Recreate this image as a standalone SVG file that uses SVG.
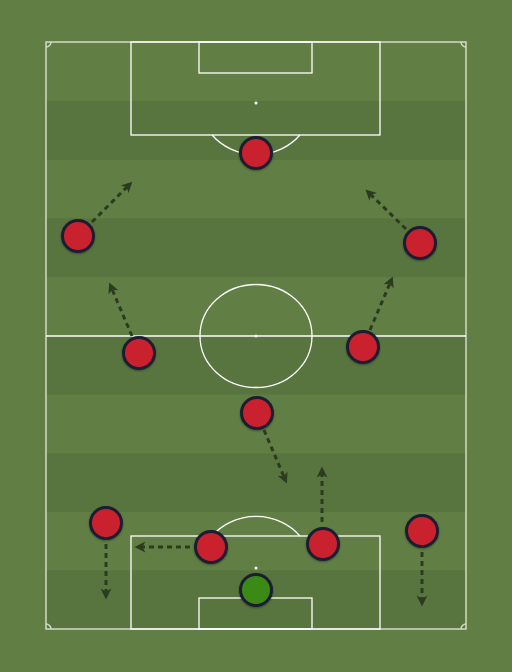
<svg xmlns="http://www.w3.org/2000/svg" width="512" height="672" viewBox="0 0 512 672">
<defs>
<style>
.line{fill:none;stroke:#ffffff;stroke-width:1.3}
.outer{fill:none;stroke:#d2dac4;stroke-width:1.5}
.dark{fill:#587540}
.player{fill:#c9222e;stroke:#1c1d33;stroke-width:3;filter:url(#sh)}
.gk{fill:#3a8a17;stroke:#1c1d33;stroke-width:3;filter:url(#sh)}
.arrow{fill:none;stroke:#2c3b20;stroke-width:3;stroke-dasharray:5 4;marker-end:url(#ah)}
</style>
<marker id="ah" viewBox="0 0 10 10" markerUnits="userSpaceOnUse" markerWidth="12" markerHeight="12" refX="5" refY="5" orient="auto">
<path d="M0.5,0.5 L9.5,5 L0.5,9.5 L3,5 Z" fill="#2c3b20"/>
</marker>
<filter id="sh" x="-30%" y="-30%" width="160%" height="160%">
<feDropShadow dx="0" dy="1" stdDeviation="1.2" flood-color="#000" flood-opacity="0.35"/>
</filter>
</defs>
<rect x="0" y="0" width="512" height="672" fill="#617f44"/>
<g id="stripes">
<rect class="dark" x="46" y="101" width="420" height="59"/>
<rect class="dark" x="46" y="218.4" width="420" height="58.7"/>
<rect class="dark" x="46" y="336" width="420" height="58.7"/>
<rect class="dark" x="46" y="453.4" width="420" height="58.7"/>
<rect class="dark" x="46" y="570.3" width="420" height="58.7"/>
</g>
<g id="markings">
<rect class="outer" x="46" y="42" width="420" height="587"/>
<line class="line" x1="46" y1="336" x2="466" y2="336"/>
<ellipse class="line" cx="256" cy="336" rx="56" ry="51.5"/>
<circle cx="256" cy="336" r="1.5" fill="#fff"/>
<rect class="line" x="131" y="42" width="249" height="93"/>
<rect class="line" x="199" y="42" width="113" height="31"/>
<circle cx="256" cy="103" r="1.5" fill="#fff"/>
<path class="line" d="M212.1,135 A56,51.5 0 0 0 299.9,135"/>
<rect class="line" x="131" y="536" width="249" height="93"/>
<rect class="line" x="199" y="598" width="113" height="31"/>
<circle cx="256" cy="568" r="1.5" fill="#fff"/>
<path class="line" d="M212.1,536 A56,51.5 0 0 1 299.9,536"/>
<path class="outer" d="M46,47 A5,5 0 0 0 51,42"/>
<path class="outer" d="M461,42 A5,5 0 0 0 466,47"/>
<path class="outer" d="M46,624 A5,5 0 0 1 51,629"/>
<path class="outer" d="M461,629 A5,5 0 0 1 466,624"/>
</g>
<g id="connectors">
<line class="arrow" x1="92" y1="222" x2="128.5" y2="185.5"/>
<line class="arrow" x1="406" y1="229" x2="369.3" y2="193.2"/>
<line class="arrow" x1="132" y1="336" x2="111.3" y2="287.5"/>
<line class="arrow" x1="370" y1="330" x2="390.7" y2="281.5"/>
<line class="arrow" x1="264" y1="430" x2="284.7" y2="478.5"/>
<line class="arrow" x1="322" y1="522" x2="322" y2="472"/>
<line class="arrow" x1="422" y1="552" x2="422" y2="601"/>
<line class="arrow" x1="106" y1="544" x2="106" y2="594"/>
<line class="arrow" x1="190" y1="547" x2="140" y2="547"/>
</g>
<g id="p1"><circle class="player" cx="256" cy="153" r="15.5"/></g>
<g id="p2"><circle class="player" cx="78" cy="236" r="15.5"/></g>
<g id="p3"><circle class="player" cx="420" cy="243" r="15.5"/></g>
<g id="p4"><circle class="player" cx="139" cy="353" r="15.5"/></g>
<g id="p5"><circle class="player" cx="363" cy="347" r="15.5"/></g>
<g id="p6"><circle class="player" cx="257" cy="413" r="15.5"/></g>
<g id="p7"><circle class="player" cx="106" cy="523" r="15.5"/></g>
<g id="p8"><circle class="player" cx="211" cy="547" r="15.5"/></g>
<g id="p9"><circle class="player" cx="323" cy="544" r="15.5"/></g>
<g id="p10"><circle class="player" cx="422" cy="531" r="15.5"/></g>
<g id="gk"><circle class="gk" cx="256" cy="590" r="15.5"/></g>
</svg>
